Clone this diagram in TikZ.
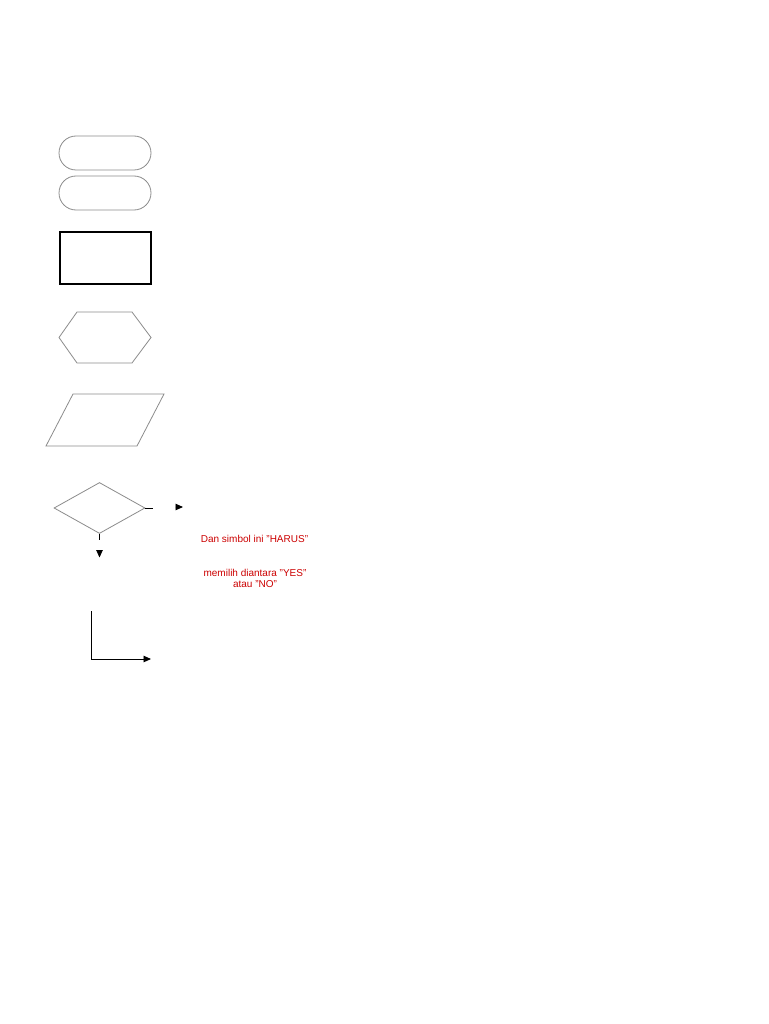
\documentclass[tikz,border=0pt]{standalone}
\usepackage{fontspec}
\setmainfont{Liberation Sans}
\usetikzlibrary{shapes.geometric,arrows.meta}
\definecolor{symgray}{RGB}{140,140,140}
\definecolor{notered}{RGB}{204,0,0}
\tikzstyle{terminal} = [rectangle, draw=symgray, line width=0.8pt,
   minimum width=92pt, minimum height=34pt, rounded corners=17pt, inner sep=0pt]
\tikzstyle{process} = [rectangle, draw=black, line width=1.2pt,
   minimum width=91pt, minimum height=52pt, inner sep=0pt]
\tikzstyle{outline} = [draw=symgray, line width=0.8pt]
\tikzstyle{decision} = [diamond, draw=symgray, line width=0.8pt,
   minimum width=91pt, minimum height=51pt, inner sep=0pt]
\tikzstyle{line} = [draw, line width=0.9pt, -{Triangle[length=7.5pt,width=6.5pt]}]
\tikzstyle{stub} = [draw, line width=0.9pt]
\tikzstyle{note} = [text=notered, font=\fontsize{10}{11}\selectfont, align=center, inner sep=0pt]

\begin{document}
\begin{tikzpicture}[x=1pt, y=-1pt]
\useasboundingbox[fill=white] (0,0) rectangle (768,1024);
% Place nodes
\node [terminal] (start) at (105,153) {};
\node [terminal] (stop) at (105,193) {};
\node [process] (proc) at (105.5,258) {};
\coordinate (hexL) at (59,337.5);
\coordinate (hexTL) at (77,312);
\coordinate (hexTR) at (132,312);
\coordinate (hexR) at (151,337.5);
\coordinate (hexBR) at (132,363);
\coordinate (hexBL) at (77,363);
\coordinate (ioTL) at (73,394);
\coordinate (ioTR) at (164,394);
\coordinate (ioBR) at (137,446);
\coordinate (ioBL) at (46,446);
\node [decision] (dec) at (99.5,508) {};
\coordinate (decR) at (153,508);
\coordinate (decB) at (99.5,540);
\coordinate (tipRa) at (175.5,507);
\coordinate (tipRb) at (183,507);
\coordinate (tipBa) at (99.5,550);
\coordinate (tipBb) at (99.5,557.5);
\node [note] (harus) at (254.5,539) {Dan simbol ini "HARUS"};
\node [note] (pilih) at (255,578) {memilih diantara "YES"\\atau "NO"};
\coordinate (flowA) at (91,611);
\coordinate (flowC) at (91,659);
\coordinate (flowB) at (151,659);
% Draw edges
\path [outline] (hexL) -- (hexTL) -- (hexTR) -- (hexR) -- (hexBR) -- (hexBL) -- cycle;
\path [outline] (ioTL) -- (ioTR) -- (ioBR) -- (ioBL) -- cycle;
\path [stub] (dec.east) -- (decR);
\path [stub] (dec.south) -- (decB);
\path [line] (tipRa) -- (tipRb);
\path [line] (tipBa) -- (tipBb);
\path [line] (flowA) -- (flowC) -- (flowB);
\end{tikzpicture}
\end{document}
